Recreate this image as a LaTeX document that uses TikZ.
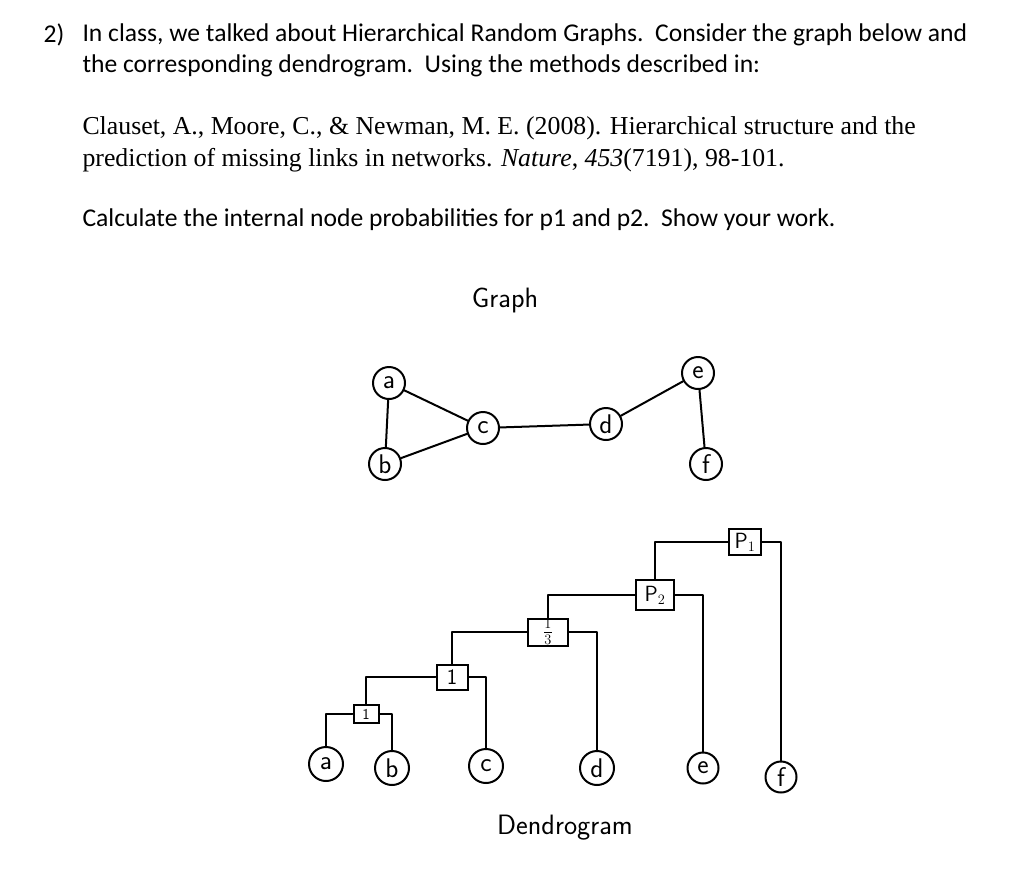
\documentclass[tikz,border=0pt]{standalone}
\usepackage{fontspec}
\setmainfont{Liberation Serif}
\newfontfamily\bodysans{Carlito}
\begin{document}
\begin{tikzpicture}[x=1pt,y=-1pt,
  hd/.style={line width=2pt,line cap=round,line join=round},
  vert/.style={circle,draw,line width=2pt,minimum size=34pt,inner sep=0pt,font=\sffamily\fontsize{27}{27}\selectfont},
  prob/.style={rectangle,draw,line width=2pt,inner sep=2pt,font=\sffamily\fontsize{22}{22}\selectfont},
  txt/.style={anchor=west,font=\bodysans\fontsize{25.6}{30}\selectfont},
  ref/.style={anchor=west,font=\fontsize{25.8}{30}\selectfont}]
\useasboundingbox (0,0) rectangle (1024,873);
\node[txt] (q) at (40,35) {2)};
\node[txt] (l1) at (79,35) {In class, we talked about Hierarchical Random Graphs.\ \ Consider the graph below and};
\node[txt] (l2) at (79,66) {the corresponding dendrogram.\ \ Using the methods described in:};
\node[ref] (r1) at (79,128) {Clauset, A., Moore, C., \& Newman, M. E. (2008). Hierarchical structure and the};
\node[ref] (r2) at (79,160) {prediction of missing links in networks. \textit{Nature}, \textit{453}(7191), 98-101.};
\node[txt] (l3) at (79,220) {Calculate the internal node probabilities for p1 and p2.\ \ Show your work.};
% graph
\node[font=\sffamily\fontsize{28}{28}\selectfont] (gl) at (505,300) {Graph};
\node[vert,minimum size=32pt] (a) at (389,383) {a};
\node[vert,minimum size=32pt] (b) at (385,464) {b};
\node[vert,minimum size=32pt] (c) at (483,428) {c};
\node[vert,minimum size=32pt] (d) at (606,424) {d};
\node[vert,minimum size=32pt] (e) at (698,373) {e};
\node[vert,minimum size=32pt] (f) at (706,464) {f};
\draw[hd] (a)--(b) (a)--(c) (b)--(c) (c)--(d) (d)--(e) (e)--(f);
% dendrogram leaves
\node[vert] (la) at (326,764) {a};
\node[vert] (lb) at (392,768) {b};
\node[vert] (lc) at (486,766) {c};
\node[vert] (ld) at (597,768) {d};
\node[vert,minimum size=31pt] (le) at (703,768) {e};
\node[vert,minimum size=31pt] (lf) at (781,777) {f};
% internal nodes
\node[prob,minimum width=25pt,minimum height=18pt,font=\sffamily\fontsize{15}{15}\selectfont,inner sep=1pt] (n1) at (366,714) {1};
\node[prob,minimum width=31pt,minimum height=25pt,inner sep=1pt] (n2) at (452,677) {1};
\node[prob,minimum width=40pt,minimum height=27pt,inner sep=0pt] (n3) at (548,632) {$\frac{1}{3}$};
\node[prob,minimum width=38pt,minimum height=30pt,inner sep=1pt] (p2) at (655,595) {P$_2$};
\node[prob,minimum width=32pt,minimum height=26pt,inner sep=1pt] (p1) at (745,542) {P$_1$};
\draw[hd] (n1.west) -| (la.north);
\draw[hd] (n1.east) -| (lb.north);
\draw[hd] (n2.west) -| (n1.north);
\draw[hd] (n2.east) -| (lc.north);
\draw[hd] (n3.west) -| (n2.north);
\draw[hd] (n3.east) -| (ld.north);
\draw[hd] (p2.west) -| (n3.north);
\draw[hd] (p2.east) -| (le.north);
\draw[hd] (p1.west) -| (p2.north);
\draw[hd] (p1.east) -| (lf.north);
\node[font=\sffamily\fontsize{28}{28}\selectfont] (dl) at (565,828) {Dendrogram};
\end{tikzpicture}
\end{document}
